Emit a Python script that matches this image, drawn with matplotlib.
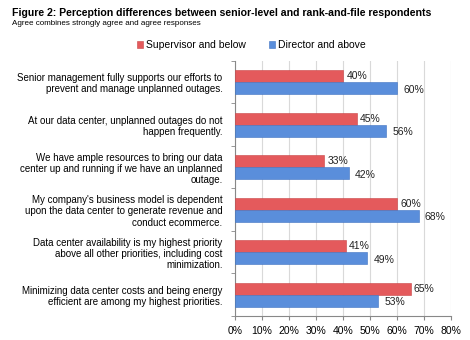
import matplotlib.pyplot as plt
import numpy as np

plt.rcParams['font.family'] = ['Liberation Sans', 'DejaVu Sans']

categories = [
    "Senior management fully supports our efforts to\nprevent and manage unplanned outages.",
    "At our data center, unplanned outages do not\nhappen frequently.",
    "We have ample resources to bring our data\ncenter up and running if we have an unplanned\noutage.",
    "My company's business model is dependent\nupon the data center to generate revenue and\nconduct ecommerce.",
    "Data center availability is my highest priority\nabove all other priorities, including cost\nminimization.",
    "Minimizing data center costs and being energy\nefficient are among my highest priorities.",
]
supervisor = [40, 45, 33, 60, 41, 65]
director = [60, 56, 42, 68, 49, 53]
xticks = [0, 10, 20, 30, 40, 50, 60, 70, 80]

red = '#E45A5C'
blue = '#5A8EDB'

fig = plt.figure(figsize=(4.7, 3.4), dpi=100)
ax = fig.add_axes([0.5, 0.0706, 0.46, 0.75])

y = np.arange(len(categories))
h = 0.28
ax.barh(y - h / 2, supervisor, height=h, color=red, edgecolor='#C84446', linewidth=0.4,
        label='Supervisor and below', zorder=3)
ax.barh(y + h / 2, director, height=h, color=blue, edgecolor='#3F72C2', linewidth=0.4,
        label='Director and above', zorder=3)

for yi, v in zip(y, supervisor):
    ax.text(v + 1.2, yi - h / 2, f'{v}%', va='center', ha='left', fontsize=7.5, color='#222222')
for yi, v in zip(y, director):
    ax.text(v + 2.3, yi + h / 2 + 0.04, f'{v}%', va='center', ha='left', fontsize=7.5, color='#222222')

ax.set_ylim(len(categories) - 0.5, -0.5)
ax.set_xlim(0, 80)
ax.set_xticks(xticks)
ax.set_xticklabels([f'{t}%' for t in xticks], fontsize=7.5)
ax.set_yticks(y)
ax.set_yticklabels(categories, fontsize=7, ha='right', linespacing=1.15)
ax.tick_params(axis='y', length=0, pad=9)
ax.set_yticks(np.arange(-0.5, len(categories) + 0.5, 1), minor=True)
ax.tick_params(axis='y', which='minor', length=3, color='#888888')
ax.tick_params(axis='x', length=3, color='#888888', pad=4)
ax.grid(axis='x', color='#D9D9D9', linewidth=0.8, zorder=0)

for s in ['top', 'right']:
    ax.spines[s].set_visible(False)
for s in ['left', 'bottom']:
    ax.spines[s].set_color('#888888')
    ax.spines[s].set_linewidth(0.8)

fig.text(0.026, 0.962, 'Figure 2: Perception differences between senior-level and rank-and-file respondents',
         fontsize=7.6, fontweight='bold', va='center')
fig.text(0.026, 0.932, 'Agree combines strongly agree and agree responses', fontsize=5.8, va='center')

fig.legend(loc='center', bbox_to_anchor=(0.535, 0.868), ncol=2, frameon=False, fontsize=7.5,
           handlelength=0.6, handleheight=0.6, handletextpad=0.3, columnspacing=2.2)

fig.savefig('out.png', dpi=100)
